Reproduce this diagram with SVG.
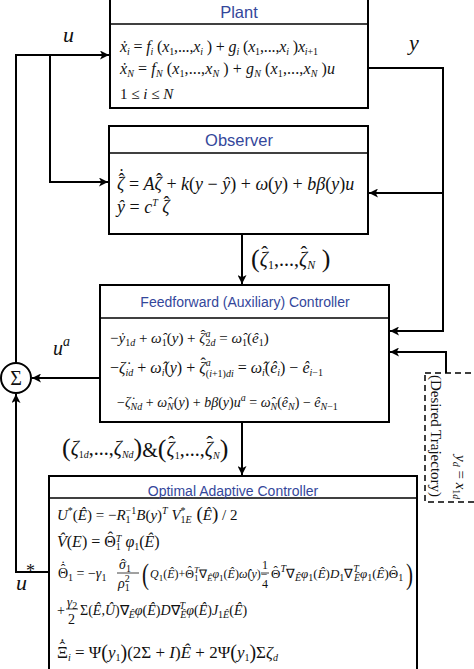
<svg xmlns="http://www.w3.org/2000/svg" width="474" height="669" viewBox="0 0 474 669">
<style>
.box{fill:#fff;stroke:#000;stroke-width:2}
.div{stroke:#000;stroke-width:1.5}
.ln{fill:none;stroke:#000;stroke-width:2}
.t{font-family:"Liberation Sans",Arial,sans-serif;fill:#34479b;text-anchor:middle}
.m{font-family:"Liberation Serif","Times New Roman",serif;fill:#111}
.i{font-style:italic}
.b{font-size:10px}
.s9{font-size:9px}
.c{font-size:12px}
.lb{font-family:"Liberation Serif","Times New Roman",serif;font-style:italic;fill:#111}
</style>
<defs>
<marker id="ar" viewBox="0 0 10 10" refX="10" refY="5" markerWidth="10" markerHeight="9" markerUnits="userSpaceOnUse" orient="auto">
<path d="M0,0 L10,5 L0,10 L2.5,5 z" fill="#000"/>
</marker>
</defs>
<rect width="474" height="669" fill="#fff"/>

<g id="connectors">
<polyline class="ln" points="16,363 16,55 109,55" marker-end="url(#ar)"/>
<polyline class="ln" points="50,55 50,182 108,182" marker-end="url(#ar)"/>
<polyline class="ln" points="368,68 443,68 443,331 390,331" marker-end="url(#ar)"/>
<polyline class="ln" points="443,193 369,193" marker-end="url(#ar)"/>
<polyline class="ln" points="242,234 242,284" marker-end="url(#ar)"/>
<polyline class="ln" points="446,373 446,352 390,352" marker-end="url(#ar)"/>
<polyline class="ln" points="100,378 32,378" marker-end="url(#ar)"/>
<polyline class="ln" points="242,422 242,475" marker-end="url(#ar)"/>
<polyline class="ln" points="49,572 16,572 16,394" marker-end="url(#ar)"/>
<text class="lb" x="63" y="42" font-size="22">u</text>
<text class="lb" x="409" y="50" font-size="22">y</text>
<text class="lb" x="53" y="355" font-size="20">u<tspan font-size="14" dy="-9">a</tspan></text>
<text class="lb" x="16" y="590" font-size="22">u<tspan font-style="normal" font-size="18" dx="-1" dy="-13">*</tspan></text>
<text class="m" x="251" y="266" font-size="20"><tspan font-size="26" dy="1">(</tspan><tspan class="i" dy="-1">ζ</tspan><tspan dx="-6.5" dy="-5">ˆ</tspan><tspan class="c" dy="8">1</tspan><tspan dy="-3">,...,</tspan><tspan class="i">ζ</tspan><tspan dx="-6.5" dy="-5">ˆ</tspan><tspan class="c i" dy="8">N</tspan><tspan font-size="26" dy="-2"> )</tspan></text>
<text class="m" x="62" y="455" font-size="20"><tspan font-size="26" dy="1">(</tspan><tspan class="i" dy="-1">ζ</tspan><tspan class="b" dy="3">1</tspan><tspan class="b i">d</tspan><tspan dy="-3">,...,</tspan><tspan class="i">ζ</tspan><tspan class="b i" dy="3">Nd</tspan><tspan font-size="26" dy="-2">)</tspan><tspan dy="1">&amp;</tspan><tspan font-size="26">(</tspan><tspan class="i" dy="-1">ζ</tspan><tspan dx="-6.5" dy="-5">ˆ</tspan><tspan class="b" dy="8">1</tspan><tspan dy="-3">,...,</tspan><tspan class="i">ζ</tspan><tspan dx="-6.5" dy="-5">ˆ</tspan><tspan class="b i" dy="8">N</tspan><tspan font-size="26" dy="-2">)</tspan></text>
</g>

<g id="sum">
<circle cx="16" cy="378" r="15" fill="#fff" stroke="#000" stroke-width="2"/>
<text class="m" x="16" y="385" font-size="20" text-anchor="middle">Σ</text>
</g>

<g id="plant">
<rect class="box" x="110" y="-1" width="258" height="109"/>
<line class="div" x1="110" y1="24" x2="368" y2="24"/>
<text class="t" x="239" y="18" font-size="16.5">Plant</text>
<text class="m" x="120" y="52" font-size="16" textLength="198" lengthAdjust="spacing"><tspan class="i">ẋ</tspan><tspan class="b i" dy="3">i</tspan><tspan dy="-3"> = </tspan><tspan class="i">f</tspan><tspan class="b i" dy="3">i</tspan><tspan dy="-3"> (</tspan><tspan class="i">x</tspan><tspan class="b" dy="3">1</tspan><tspan dy="-3">,...,</tspan><tspan class="i">x</tspan><tspan class="b i" dy="3">i</tspan><tspan dy="-3"> ) + </tspan><tspan class="i">g</tspan><tspan class="b i" dy="3">i</tspan><tspan dy="-3"> (</tspan><tspan class="i">x</tspan><tspan class="b" dy="3">1</tspan><tspan dy="-3">,...,</tspan><tspan class="i">x</tspan><tspan class="b i" dy="3">i</tspan><tspan dy="-3"> )</tspan><tspan class="i">x</tspan><tspan class="b i" dy="3">i</tspan><tspan class="b">+1</tspan></text>
<text class="m" x="120" y="74" font-size="16" textLength="215" lengthAdjust="spacing"><tspan class="i">ẋ</tspan><tspan class="b i" dy="3">N</tspan><tspan dy="-3"> = </tspan><tspan class="i">f</tspan><tspan class="b i" dy="3">N</tspan><tspan dy="-3"> (</tspan><tspan class="i">x</tspan><tspan class="b" dy="3">1</tspan><tspan dy="-3">,...,</tspan><tspan class="i">x</tspan><tspan class="b i" dy="3">N</tspan><tspan dy="-3"> ) + </tspan><tspan class="i">g</tspan><tspan class="b i" dy="3">N</tspan><tspan dy="-3"> (</tspan><tspan class="i">x</tspan><tspan class="b" dy="3">1</tspan><tspan dy="-3">,...,</tspan><tspan class="i">x</tspan><tspan class="b i" dy="3">N</tspan><tspan dy="-3"> )</tspan><tspan class="i">u</tspan></text>
<text class="m" x="120" y="99" font-size="15">1 ≤ <tspan class="i">i</tspan> ≤ <tspan class="i">N</tspan></text>
</g>

<g id="observer">
<rect class="box" x="109" y="126" width="259" height="108"/>
<line class="div" x1="109" y1="153" x2="368" y2="153"/>
<text class="t" x="239" y="146" font-size="16.5">Observer</text>
<text class="m" x="117" y="190" font-size="18"><tspan class="i">ζ</tspan><tspan dx="-5.9" dy="-4.5">ˆ</tspan><tspan dx="-6" dy="-4">˙</tspan><tspan dy="8.5"> = </tspan><tspan class="i">Aζ</tspan><tspan dx="-5.9" dy="-4.5">ˆ</tspan><tspan dy="4.5"> + </tspan><tspan class="i">k</tspan><tspan>(</tspan><tspan class="i">y</tspan><tspan> − </tspan><tspan class="i">ŷ</tspan><tspan>) + </tspan><tspan class="i">ω</tspan><tspan>(</tspan><tspan class="i">y</tspan><tspan>) + </tspan><tspan class="i">bβ</tspan><tspan>(</tspan><tspan class="i">y</tspan><tspan>)</tspan><tspan class="i">u</tspan></text>
<text class="m" x="117" y="213" font-size="18"><tspan class="i">ŷ</tspan><tspan> = </tspan><tspan class="i">c</tspan><tspan class="b i" dy="-7">T</tspan><tspan class="i" dy="7"> ζ</tspan><tspan dx="-5.9" dy="-4.5">ˆ</tspan></text>
</g>

<g id="feedforward">
<rect class="box" x="100" y="285" width="289" height="137"/>
<line class="div" x1="100" y1="318" x2="389" y2="318"/>
<text class="t" x="245" y="307" font-size="14">Feedforward (Auxiliary) Controller</text>
<text class="m" x="110" y="343" font-size="15">−<tspan class="i">ẏ</tspan><tspan class="b" dy="3">1</tspan><tspan class="b i">d</tspan><tspan dy="-3"> + </tspan><tspan class="i">ω̂</tspan><tspan class="b" dy="3">1</tspan><tspan dy="-3">(</tspan><tspan class="i">y</tspan><tspan>) + </tspan><tspan class="i">ζ</tspan><tspan dx="-4.9" dy="-3.5">ˆ</tspan><tspan class="b i" dy="-2.5">a</tspan><tspan class="b" dx="-5" dy="9">2</tspan><tspan class="b i">d</tspan><tspan dy="-3"> = </tspan><tspan class="i">ω̂</tspan><tspan class="b" dy="3">1</tspan><tspan dy="-3">(</tspan><tspan class="i">ê</tspan><tspan class="b" dy="3">1</tspan><tspan dy="-3">)</tspan></text>
<text class="m" x="110" y="373" font-size="16">−<tspan class="i">ζ̇</tspan><tspan class="b i" dy="3">id</tspan><tspan dy="-3"> + </tspan><tspan class="i">ω̂</tspan><tspan class="b i" dy="3">i</tspan><tspan dy="-3">(</tspan><tspan class="i">y</tspan><tspan>) + </tspan><tspan class="i">ζ</tspan><tspan dx="-5.2" dy="-4">ˆ</tspan><tspan class="b i" dy="-3">a</tspan><tspan class="b" dx="-5" dy="11">(</tspan><tspan class="b i">i</tspan><tspan class="b">+1)</tspan><tspan class="b i">di</tspan><tspan dy="-4"> = </tspan><tspan class="i">ω̂</tspan><tspan class="b i" dy="3">i</tspan><tspan dy="-3">(</tspan><tspan class="i">ê</tspan><tspan class="b i" dy="3">i</tspan><tspan dy="-3">) − </tspan><tspan class="i">ê</tspan><tspan class="b i" dy="3">i</tspan><tspan class="b">−1</tspan></text>
<text class="m" x="117" y="407" font-size="14">−<tspan class="i">ζ̇</tspan><tspan class="b i" dy="3">Nd</tspan><tspan dy="-3"> + </tspan><tspan class="i">ω̂</tspan><tspan class="b i" dy="3">N</tspan><tspan dy="-3">(</tspan><tspan class="i">y</tspan><tspan>) + </tspan><tspan class="i">bβ</tspan><tspan>(</tspan><tspan class="i">y</tspan><tspan>)</tspan><tspan class="i">u</tspan><tspan class="b i" dy="-6">a</tspan><tspan dy="6"> = </tspan><tspan class="i">ω̂</tspan><tspan class="b i" dy="3">N</tspan><tspan dy="-3">(</tspan><tspan class="i">ê</tspan><tspan class="b i" dy="3">N</tspan><tspan dy="-3">) − </tspan><tspan class="i">ê</tspan><tspan class="b i" dy="3">N</tspan><tspan class="b">−1</tspan></text>
</g>

<g id="desired">
<rect x="425" y="373" width="60" height="129" fill="none" stroke="#000" stroke-width="1.5" stroke-dasharray="6,4"/>
<text class="m" transform="translate(431,375) rotate(90)" font-size="15">(Desired Trajectory)</text>
<text class="m" transform="translate(456,455) rotate(90)" font-size="15"><tspan class="i">y</tspan><tspan class="b i" dy="3">d</tspan><tspan dy="-3"> = </tspan><tspan class="i">x</tspan><tspan class="b" dy="3">1</tspan><tspan class="b i">d</tspan></text>
</g>

<g id="optimal">
<rect class="box" x="49" y="476" width="368" height="200"/>
<line class="div" x1="49" y1="498" x2="417" y2="498"/>
<text class="t" x="233" y="496" font-size="14">Optimal Adaptive Controller</text>
<text class="m" x="57" y="520" font-size="15"><tspan class="i">U</tspan><tspan class="b" dy="-6">*</tspan><tspan dy="6">(</tspan><tspan class="i">Ê</tspan><tspan>) = −</tspan><tspan class="i">R</tspan><tspan class="b" dy="3">1</tspan><tspan class="b" dx="-5" dy="-9">−1</tspan><tspan class="i" dy="6">B</tspan><tspan>(</tspan><tspan class="i">y</tspan><tspan>)</tspan><tspan class="b i" dy="-6">T</tspan><tspan class="i" dy="6"> V</tspan><tspan class="b" dy="-6">*</tspan><tspan class="b" dx="-5" dy="9">1</tspan><tspan class="b i">E</tspan><tspan font-size="19" dy="-3"> (</tspan><tspan class="i">Ê</tspan><tspan font-size="19">)</tspan><tspan> / 2</tspan></text>
<text class="m" x="57" y="547" font-size="16"><tspan class="i">V̂</tspan><tspan>(</tspan><tspan class="i">E</tspan><tspan>) = Θ</tspan><tspan dx="-8" dy="-4.5">ˆ</tspan><tspan class="b" dx="2.7" dy="7.5">1</tspan><tspan class="b i" dx="-5" dy="-8">T</tspan><tspan class="i" dy="5"> φ</tspan><tspan class="b" dy="3">1</tspan><tspan dy="-3">(</tspan><tspan class="i">Ê</tspan><tspan>)</tspan></text>
<text class="m" x="58" y="578" font-size="14"><tspan>Θ</tspan><tspan dx="-7.4" dy="-4">ˆ</tspan><tspan dx="-4.7" dy="-3.5">˙</tspan><tspan class="b" dx="2.7" dy="10.5">1</tspan><tspan dy="-3"> = −</tspan><tspan class="i">γ</tspan><tspan class="b" dy="3">1</tspan></text>
<text class="m" x="119" y="569" font-size="14"><tspan class="i">σ</tspan><tspan dx="-5.1">ˆ</tspan><tspan class="b" dx="0.4" dy="3">1</tspan></text>
<line x1="117" y1="573" x2="139" y2="573" stroke="#111" stroke-width="0.8"/>
<text class="m" x="118" y="588" font-size="14"><tspan class="i">ρ</tspan><tspan class="b" dy="3">1</tspan><tspan class="b" dx="-5" dy="-9">2</tspan></text>
<text class="m" x="142" y="584" font-size="30" transform="translate(142,584) scale(0.7,1) translate(-142,-584)">(</text>
<text class="m" x="150" y="578" font-size="12"><tspan class="i">Q</tspan><tspan class="s9" dy="3">1</tspan><tspan dy="-3">(</tspan><tspan class="i">Ê</tspan><tspan>)+Θ</tspan><tspan dx="-6.3" dy="-3">ˆ</tspan><tspan class="s9" dx="2.3" dy="6">1</tspan><tspan class="s9 i" dx="-4.5" dy="-8">T</tspan><tspan dy="5">∇</tspan><tspan class="s9 i" dy="3">Ê</tspan><tspan class="i" dy="-3">φ</tspan><tspan class="s9" dy="3">1</tspan><tspan dy="-3">(</tspan><tspan class="i">Ê</tspan><tspan>)</tspan><tspan class="i">ω̂</tspan><tspan>(</tspan><tspan class="i">y</tspan><tspan>)−</tspan></text>
<text class="m" x="262" y="569" font-size="12">1</text>
<line x1="261" y1="573" x2="269" y2="573" stroke="#111" stroke-width="0.8"/>
<text class="m" x="262" y="588" font-size="12">4</text>
<text class="m" x="271" y="578" font-size="13"><tspan>Θ</tspan><tspan dx="-6.85" dy="-3.5">ˆ</tspan><tspan class="b i" dx="2.55" dy="-2.5">T</tspan><tspan dy="6">∇</tspan><tspan class="b i" dy="3">Ê</tspan><tspan class="i" dy="-3">φ</tspan><tspan class="b" dy="3">1</tspan><tspan dy="-3">(</tspan><tspan class="i">Ê</tspan><tspan>)</tspan><tspan class="i">D</tspan><tspan class="b" dy="3">1</tspan><tspan dy="-3">∇</tspan><tspan class="b i" dy="-6">T</tspan><tspan class="b i" dx="-5" dy="9">Ê</tspan><tspan class="i" dy="-3">φ</tspan><tspan class="b" dy="3">1</tspan><tspan dy="-3">(</tspan><tspan class="i">Ê</tspan><tspan>)Θ</tspan><tspan dx="-6.85" dy="-3.5">ˆ</tspan><tspan class="b" dx="2.55" dy="6.5">1</tspan></text>
<text class="m" x="406" y="584" font-size="30" transform="translate(406,584) scale(0.7,1) translate(-406,-584)">)</text>
<text class="m" x="57" y="615" font-size="14">+</text>
<text class="m" x="67" y="606" font-size="13"><tspan class="i">γ</tspan><tspan class="b" dy="3">2</tspan></text>
<line x1="66" y1="609" x2="78" y2="609" stroke="#111" stroke-width="0.8"/>
<text class="m" x="68" y="624" font-size="14">2</text>
<text class="m" x="80" y="615" font-size="14"><tspan>Σ(</tspan><tspan class="i">Ê</tspan><tspan>,</tspan><tspan class="i">Û</tspan><tspan>)∇</tspan><tspan class="b i" dy="3">Ê</tspan><tspan class="i" dy="-3">φ</tspan><tspan>(</tspan><tspan class="i">Ê</tspan><tspan>)</tspan><tspan class="i">D</tspan><tspan>∇</tspan><tspan class="b i" dy="-6">T</tspan><tspan class="b i" dx="-5" dy="9">Ê</tspan><tspan class="i" dy="-3">φ</tspan><tspan>(</tspan><tspan class="i">Ê</tspan><tspan>)</tspan><tspan class="i">J</tspan><tspan class="b" dy="3">1</tspan><tspan class="b i">Ê</tspan><tspan dy="-3">(</tspan><tspan class="i">Ê</tspan><tspan>)</tspan></text>
<text class="m" x="57" y="658" font-size="17"><tspan>Ξ</tspan><tspan dx="-8.35" dy="-5">ˆ</tspan><tspan dx="-5.7" dy="-3.5">˙</tspan><tspan class="b i" dx="2.65" dy="11.5">i</tspan><tspan dy="-3"> = Ψ</tspan><tspan font-size="20" dy="1">(</tspan><tspan class="i" dy="-1">y</tspan><tspan class="b" dy="3">1</tspan><tspan font-size="20" dy="-2">)</tspan><tspan dy="-1">(2Σ + </tspan><tspan class="i">I</tspan><tspan>)</tspan><tspan class="i">Ê</tspan><tspan> + 2Ψ</tspan><tspan font-size="20" dy="1">(</tspan><tspan class="i" dy="-1">y</tspan><tspan class="b" dy="3">1</tspan><tspan font-size="20" dy="-2">)</tspan><tspan dy="-1">Σ</tspan><tspan class="i">ζ</tspan><tspan class="b i" dy="3">d</tspan></text>
</g>
</svg>
